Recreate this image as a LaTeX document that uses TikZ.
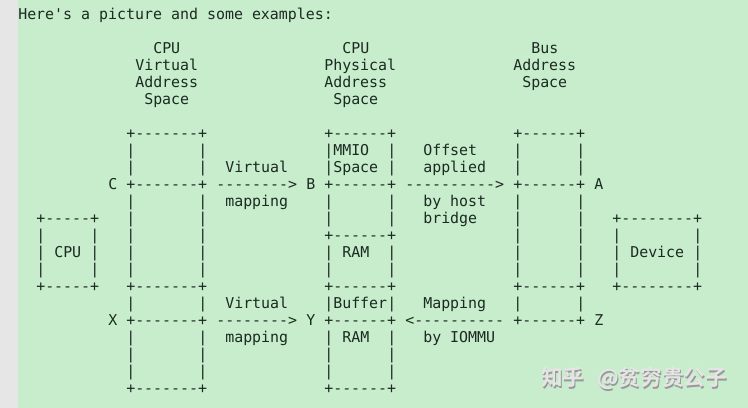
\documentclass[tikz,border=0pt]{standalone}
\usepackage{fontspec}
\usepackage{tikz}
\newfontfamily\asciifont{DejaVu Sans Mono}
\newfontfamily\markfont{Noto Sans CJK SC Bold}
\definecolor{paperGreen}{HTML}{C7EDCC}
\definecolor{marginGray}{HTML}{E6E6E6}
\definecolor{asciiInk}{HTML}{1C2A22}
\tikzset{
    asciitext/.style={font=\asciifont\fontsize{11.2}{12.75}\selectfont, text=asciiInk, inner sep=0pt, anchor=base west},
    marktext/.style={font=\markfont\fontsize{16.2}{18}\selectfont, inner sep=0pt, anchor=base west}
}
\newcommand{\PutText}[3]{
    \node[asciitext] (t#1-#2) at (#1,-#2) {#3};
}
\newcommand{\PutBars}[4]{
    \foreach \r in {#3,...,#4} {
        \PutText{#1}{\r}{|}
        \PutText{#2}{\r}{|}
    }
}
\newcommand{\PutRule}[3]{
    \PutText{#1}{#2}{+#3+}
}
\begin{document}
\begin{tikzpicture}[x=6.75pt, y=12.75pt]
        % Page
        \fill[paperGreen] (-2,1.118) rectangle (81.11,-22.88);
        \fill[marginGray] (-2,1.118) rectangle (0,-22.88);
        \useasboundingbox (-2,1.118) rectangle (81.11,-22.88);

        \PutText{0}{0}{Here's a picture and some examples:}

        % Column titles
        \PutText{15}{2}{CPU}
        \PutText{13}{3}{Virtual}
        \PutText{13}{4}{Address}
        \PutText{14}{5}{Space}
        \PutText{36}{2}{CPU}
        \PutText{34}{3}{Physical}
        \PutText{34}{4}{Address}
        \PutText{35}{5}{Space}
        \PutText{57}{2}{Bus}
        \PutText{55}{3}{Address}
        \PutText{56}{4}{Space}

        % CPU box
        \PutRule{2}{12}{-----}
        \PutBars{2}{8}{13}{15}
        \PutText{4}{14}{CPU}
        \PutRule{2}{16}{-----}

        % Virtual space
        \PutRule{12}{7}{-------}
        \PutBars{12}{20}{8}{9}
        \PutRule{12}{10}{-------}
        \PutBars{12}{20}{11}{15}
        \PutRule{12}{16}{-------}
        \PutText{12}{17}{|} \PutText{20}{17}{|}
        \PutRule{12}{18}{-------}
        \PutBars{12}{20}{19}{21}
        \PutRule{12}{22}{-------}
        \PutText{10}{10}{C}
        \PutText{10}{18}{X}

        % Physical space
        \PutRule{34}{7}{------}
        \PutBars{34}{41}{8}{9}
        \PutText{35}{8}{MMIO}
        \PutText{35}{9}{Space}
        \PutRule{34}{10}{------}
        \PutBars{34}{41}{11}{12}
        \PutRule{34}{13}{------}
        \PutBars{34}{41}{14}{15}
        \PutText{36}{14}{RAM}
        \PutRule{34}{16}{------}
        \PutText{34}{17}{|} \PutText{41}{17}{|}
        \PutText{35}{17}{Buffer}
        \PutRule{34}{18}{------}
        \PutBars{34}{41}{19}{21}
        \PutText{36}{19}{RAM}
        \PutRule{34}{22}{------}
        \PutText{32}{10}{B}
        \PutText{32}{18}{Y}

        % Bus space
        \PutRule{55}{7}{------}
        \PutBars{55}{62}{8}{9}
        \PutRule{55}{10}{------}
        \PutBars{55}{62}{11}{15}
        \PutRule{55}{16}{------}
        \PutText{55}{17}{|} \PutText{62}{17}{|}
        \PutRule{55}{18}{------}
        \PutText{64}{10}{A}
        \PutText{64}{18}{Z}

        % Device box
        \PutRule{66}{12}{--------}
        \PutBars{66}{75}{13}{15}
        \PutText{68}{14}{Device}
        \PutRule{66}{16}{--------}

        % Mappings
        \PutText{23}{9}{Virtual}
        \PutText{22}{10}{-------->}
        \PutText{23}{11}{mapping}
        \PutText{45}{8}{Offset}
        \PutText{45}{9}{applied}
        \PutText{43}{10}{---------->}
        \PutText{45}{11}{by host}
        \PutText{45}{12}{bridge}
        \PutText{23}{17}{Virtual}
        \PutText{22}{18}{-------->}
        \PutText{23}{19}{mapping}
        \PutText{45}{17}{Mapping}
        \PutText{43}{18}{<----------}
        \PutText{45}{19}{by IOMMU}

        % Watermark
        \node[marktext, text=black!40] (markshade) at (58.2,-21.65) {知乎\hspace{6pt} @贫穷贵公子};
        \node[marktext, text=white!90!black] (mark) at (58.09,-21.58) {知乎\hspace{6pt} @贫穷贵公子};
    \end{tikzpicture}
\end{document}
